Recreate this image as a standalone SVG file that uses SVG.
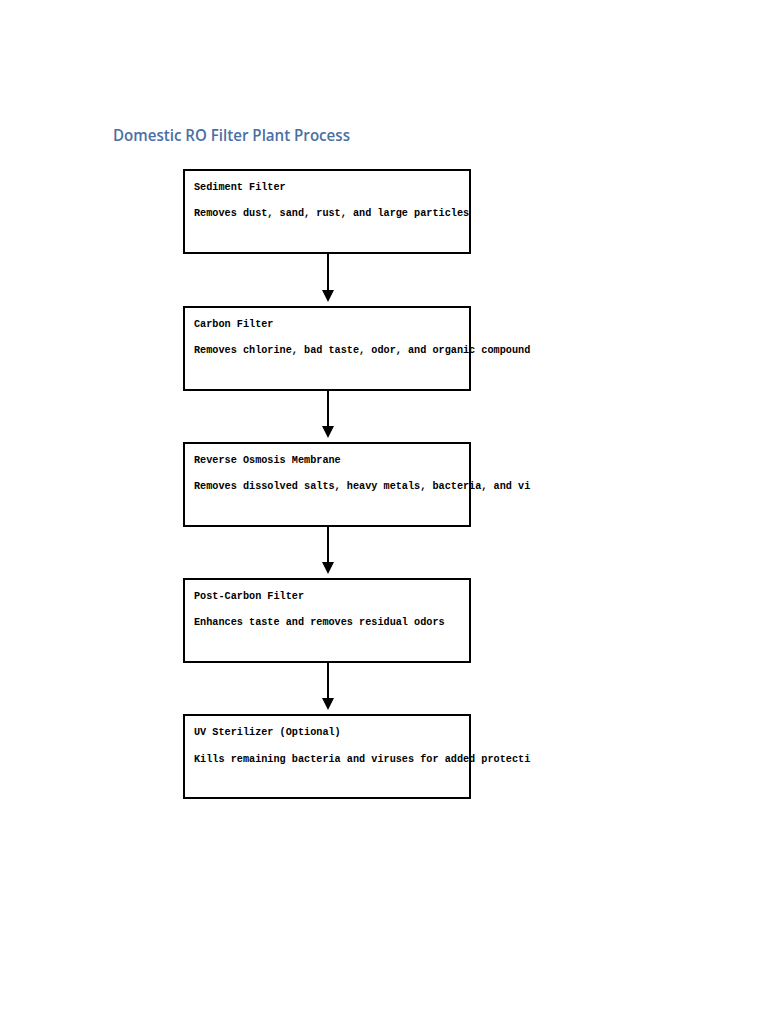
<svg xmlns="http://www.w3.org/2000/svg" width="768" height="1024" viewBox="0 0 768 1024">
<style>
.box{fill:#fff;stroke:#000;stroke-width:2}
.t{font-family:"Liberation Mono","DejaVu Sans Mono",monospace;font-size:10.2px;font-weight:bold;fill:#000}
.title{font-family:"Open Sans","Liberation Sans",sans-serif;font-size:16px;font-weight:600;fill:#4a6fa5}
.c{stroke:#000;stroke-width:2;fill:none;marker-end:url(#ah)}
</style>
<defs>
<marker id="ah" markerWidth="12" markerHeight="12" refX="0" refY="6" orient="auto" markerUnits="userSpaceOnUse" viewBox="0 0 12 12">
<path d="M0,0 L12,6 L0,12 Z" fill="#000"/>
</marker>
</defs>
<rect width="768" height="1024" fill="#fff"/>
<text class="title" x="113" y="141" textLength="237" lengthAdjust="spacingAndGlyphs">Domestic RO Filter Plant Process</text>
<g id="n1"><rect class="box" x="184" y="170" width="286" height="83"/><text class="t" x="194" y="189.5">Sediment Filter</text><text class="t" x="194" y="215.5">Removes dust, sand, rust, and large particles</text></g>
<g id="n2"><rect class="box" x="184" y="307" width="286" height="83"/><text class="t" x="194" y="326.5">Carbon Filter</text><text class="t" x="194" y="352.5">Removes chlorine, bad taste, odor, and organic compound</text></g>
<g id="n3"><rect class="box" x="184" y="443" width="286" height="83"/><text class="t" x="194" y="462.5">Reverse Osmosis Membrane</text><text class="t" x="194" y="488.5">Removes dissolved salts, heavy metals, bacteria, and vi</text></g>
<g id="n4"><rect class="box" x="184" y="579" width="286" height="83"/><text class="t" x="194" y="598.5">Post-Carbon Filter</text><text class="t" x="194" y="624.5">Enhances taste and removes residual odors</text></g>
<g id="n5"><rect class="box" x="184" y="715" width="286" height="83"/><text class="t" x="194" y="734.5">UV Sterilizer (Optional)</text><text class="t" x="194" y="761.5">Kills remaining bacteria and viruses for added protecti</text></g>
<g id="connectors">
<line class="c" x1="328" y1="254" x2="328" y2="290"/>
<line class="c" x1="328" y1="391" x2="328" y2="426"/>
<line class="c" x1="328" y1="527" x2="328" y2="562"/>
<line class="c" x1="328" y1="663" x2="328" y2="698"/>
</g>
</svg>
